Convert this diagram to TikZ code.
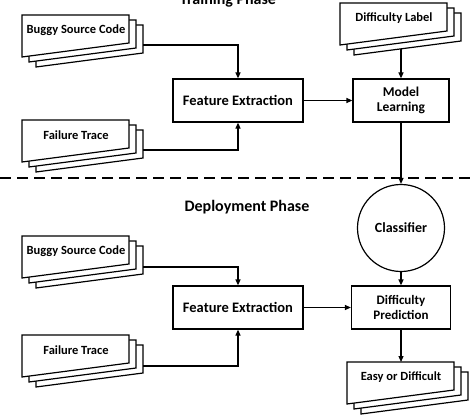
\documentclass[tikz,border=0pt]{standalone}
\usepackage{fontspec}
\setmainfont{Carlito}
\usetikzlibrary{arrows.meta,calc}
\begin{document}
\begin{tikzpicture}[x=1pt,y=-1pt,
  lw/.style={line width=1.2pt},
  lbl/.style={font=\bfseries\fontsize{12.5}{15}\selectfont, align=center, inner sep=0pt},
  procbox/.style={draw, lw, minimum height=43pt, align=center, inner sep=0pt},
  title/.style={font=\bfseries\fontsize{16}{19}\selectfont, inner sep=0pt},
  arr/.style={lw, -{Triangle[length=6pt,width=5pt]}},
]
\useasboundingbox (0,0) rectangle (474,420);
\newcommand\mdoc[4]{%
  \foreach \d/\e in {14/10,7/5,0/0}{%
    \filldraw[fill=white, lw] ({#2+\d},{#3+\e}) -- ++(107,0) -- ++(0,28) -- ({#2+\d},{#3+\e+42}) -- cycle;}
  \node[lbl] (#1) at ({#2+54},{#3+15}) {#4};
}
% titles
\node[title, anchor=base] (tp) at (228,5) {Training Phase};
\node[title, anchor=base] (dpt) at (247,211) {Deployment Phase};
% dashed separator
\coordinate (dl) at (0,178);
\coordinate (dr) at (474,178);
\draw[lw, dash pattern=on 11pt off 6pt] (dl) -- (dr);
% training phase
\mdoc{bsc1}{22}{15}{Buggy Source Code}
\mdoc{ft1}{22}{120}{Failure Trace}
\mdoc{dl1}{340}{3}{Difficulty Label}
\coordinate (bsc1e) at (143,45);
\coordinate (ft1e) at (143,150);
\coordinate (dl1s) at (401,49);
\node[procbox, minimum width=130pt, font=\bfseries\fontsize{14.5}{17}\selectfont] (fe1) at (238,100.5) {Feature Extraction};
\node[procbox, minimum width=96pt, lbl, draw, font=\bfseries\fontsize{13.5}{15.5}\selectfont] (ml) at (401,100.5) {Model\\Learning};
\draw[arr] (bsc1e) -| (fe1.north);
\draw[arr] (ft1e) -| (fe1.south);
\draw[arr] (fe1.east) -- (ml.west);
\draw[arr] (dl1s) -- (ml.north);
% classifier
\node[draw, lw, circle, minimum size=87pt, inner sep=0pt, lbl, font=\bfseries\fontsize{14}{16}\selectfont] (cl) at (401,228) {Classifier};
\draw[arr] (ml.south) -- (cl.north);
% deployment phase
\mdoc{bsc2}{22}{236}{Buggy Source Code}
\mdoc{ft2}{22}{335}{Failure Trace}
\coordinate (bsc2e) at (143,267);
\coordinate (ft2e) at (143,366);
\node[procbox, minimum width=130pt, font=\bfseries\fontsize{14.5}{17}\selectfont] (fe2) at (238,307.5) {Feature Extraction};
\node[procbox, minimum width=99pt, lbl, draw, font=\bfseries\fontsize{13}{15}\selectfont] (dp) at (401,307.5) {Difficulty\\Prediction};
\draw[arr] (bsc2e) -| (fe2.north);
\draw[arr] (ft2e) -| (fe2.south);
\draw[arr] (fe2.east) -- (dp.west);
\draw[arr] (cl.south) -- (dp.north);
\mdoc{ed}{347}{362}{Easy or Difficult}
\coordinate (edn) at (401,362);
\draw[arr] (dp.south) -- (edn);
\end{tikzpicture}
\end{document}
